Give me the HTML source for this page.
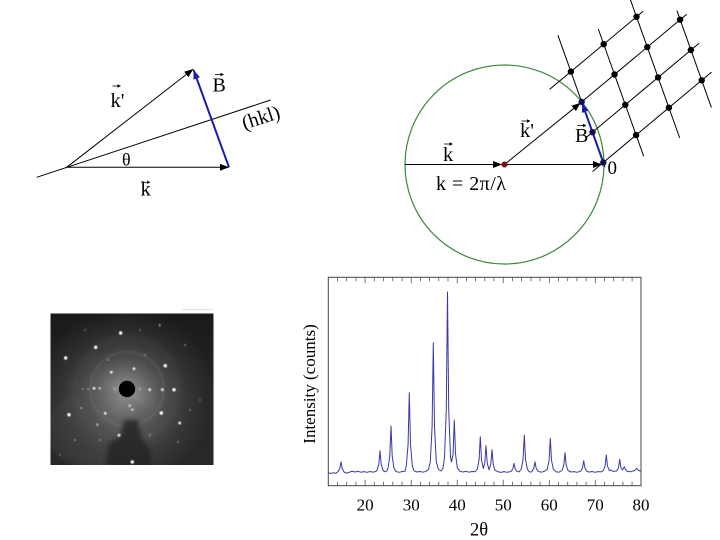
<!DOCTYPE html>
<html><head><meta charset="utf-8"><style>
html,body{margin:0;padding:0;background:#fff;}
svg{display:block;}
text{font-family:"Liberation Serif","DejaVu Serif",serif;fill:#000;}
</style></head><body>
<svg width="720" height="540" viewBox="0 0 720 540" xmlns="http://www.w3.org/2000/svg">
<defs>
<marker id="ab" markerUnits="userSpaceOnUse" markerWidth="10" markerHeight="8" refX="9" refY="3.5" orient="auto"><path d="M0,0 L9,3.5 L0,7 Z" fill="#000"/></marker>
<marker id="au" markerUnits="userSpaceOnUse" markerWidth="10" markerHeight="8" refX="9" refY="3.5" orient="auto"><path d="M0,0 L9,3.5 L0,7 Z" fill="#1c1ca8"/></marker>
<radialGradient id="glow" cx="125" cy="395" r="90" gradientUnits="userSpaceOnUse">
<stop offset="0" stop-color="#b4b4b4"/><stop offset="0.12" stop-color="#9a9a9a"/><stop offset="0.28" stop-color="#747474"/><stop offset="0.45" stop-color="#545454"/><stop offset="0.7" stop-color="#363636"/><stop offset="1" stop-color="#222"/></radialGradient>
<linearGradient id="vg" x1="0" y1="0" x2="0" y2="1"><stop offset="0" stop-color="#000" stop-opacity="0.25"/><stop offset="1" stop-color="#555" stop-opacity="0.12"/></linearGradient>
<filter id="bl1" x="-50%" y="-50%" width="200%" height="200%"><feGaussianBlur stdDeviation="0.6"/></filter>
<filter id="bl3" x="-50%" y="-50%" width="200%" height="200%"><feGaussianBlur stdDeviation="2.5"/></filter>
<clipPath id="imgclip"><rect x="50.5" y="313.5" width="163" height="151.5"/></clipPath>
</defs>

<!-- ===== Top-left diagram ===== -->
<g stroke="#000" stroke-width="1" fill="none">
<line x1="36.7" y1="177.3" x2="270.7" y2="100"/>
<line x1="66.7" y1="167.3" x2="229" y2="167.3" marker-end="url(#ab)"/>
<line x1="66.7" y1="167.3" x2="193.3" y2="69" marker-end="url(#ab)"/>
</g>
<line x1="229" y1="167.3" x2="193.6" y2="70" stroke="#1c1ca8" stroke-width="2" marker-end="url(#au)"/>
<text x="110.5" y="107" font-size="20.5">k'</text>
<path d="M112.5,86 H119" stroke="#000" stroke-width="0.8"/><path d="M121,86 L117.5,84.3 L117.5,87.7 Z"/>
<text x="212.5" y="91.7" font-size="20">B</text>
<path d="M215,74.5 H222" stroke="#000" stroke-width="0.8"/><path d="M224,74.5 L220.5,72.8 L220.5,76.2 Z"/>
<text x="122" y="165.5" font-size="18">θ</text>
<text x="140.5" y="195.7" font-size="20.5">k</text>
<path d="M141.5,182.3 H148.5" stroke="#000" stroke-width="0.8"/><path d="M150.5,182.3 L147,180.6 L147,184 Z"/>
<text x="261" y="124" font-size="20" text-anchor="middle" transform="rotate(-18 261 118)">(hkl)</text>

<!-- ===== Top-right Ewald diagram ===== -->
<circle cx="504.5" cy="164.5" r="99.5" fill="none" stroke="#3c8a3c" stroke-width="1.2"/>
<g stroke="#000" stroke-width="1" fill="none">
<line x1="405" y1="164.5" x2="502" y2="164.5" marker-end="url(#ab)"/>
<line x1="504.5" y1="164.5" x2="602" y2="164.5" marker-end="url(#ab)"/>
<line x1="504.5" y1="164.5" x2="580.7" y2="102.8" marker-end="url(#ab)"/>
<line x1="592.5" y1="171.5" x2="711.5" y2="72.1"/>
<line x1="585.9" y1="137.7" x2="699.1" y2="43.2"/>
<line x1="581.7" y1="101.9" x2="686.7" y2="14.2"/>
<line x1="549.6" y1="89.4" x2="643.1" y2="11.3"/>
<line x1="604.9" y1="167" x2="557.9" y2="35.2"/>
<line x1="643.7" y1="156.3" x2="598.3" y2="29.0"/>
<line x1="679.7" y1="138" x2="630" y2="-1.4"/>
<line x1="711.4" y1="107.6" x2="676.9" y2="10.6"/>
</g>
<line x1="603.3" y1="162.5" x2="582.2" y2="103.3" stroke="#1c1ca8" stroke-width="2" marker-end="url(#au)"/>
<g fill="#000">
<circle cx="603.3" cy="162.5" r="3.2" fill="#101050"/><circle cx="636.1" cy="135.1" r="3.2"/><circle cx="668.9" cy="107.7" r="3.2"/><circle cx="701.7" cy="80.3" r="3.2"/>
<circle cx="592.5" cy="132.2" r="3.2" fill="#101050"/><circle cx="625.3" cy="104.8" r="3.2"/><circle cx="658.1" cy="77.4" r="3.2"/><circle cx="690.9" cy="50" r="3.2"/>
<circle cx="581.7" cy="101.9" r="3.2" fill="#101050"/><circle cx="614.5" cy="74.5" r="3.2"/><circle cx="647.3" cy="47.1" r="3.2"/><circle cx="680.1" cy="19.7" r="3.2"/>
<circle cx="570.9" cy="71.6" r="3.2"/><circle cx="603.7" cy="44.2" r="3.2"/><circle cx="636.5" cy="16.8" r="3.2"/>
</g>
<circle cx="504.5" cy="164.5" r="3" fill="#7a1414"/>
<text x="443" y="161" font-size="20.5">k</text>
<path d="M444,144 H451" stroke="#000" stroke-width="0.8"/><path d="M453,144 L449.5,142.3 L449.5,145.7 Z"/>
<text x="520" y="137" font-size="20.5">k'</text>
<path d="M521.5,121 H528.5" stroke="#000" stroke-width="0.8"/><path d="M530.5,121 L527,119.3 L527,122.7 Z"/>
<text x="575" y="142" font-size="20">B</text>
<path d="M577.5,125.5 H584.5" stroke="#000" stroke-width="0.8"/><path d="M586.5,125.5 L583,123.8 L583,127.2 Z"/>
<text x="607.5" y="174" font-size="19">0</text>
<text x="436" y="190" font-size="20" textLength="70" lengthAdjust="spacing">k = 2π/λ</text>

<!-- ===== Diffraction image ===== -->
<line x1="182" y1="309.5" x2="213.5" y2="309.5" stroke="#e2e2e2" stroke-width="1"/>
<g clip-path="url(#imgclip)">
<rect x="50.5" y="313.5" width="163" height="151.5" fill="#1e1e1e"/>
<rect x="50.5" y="313.5" width="163" height="151.5" fill="url(#glow)"/>
<ellipse cx="100" cy="430" rx="55" ry="40" fill="#555" opacity="0.25" filter="url(#bl3)"/>
<rect x="50.5" y="313.5" width="163" height="151.5" fill="url(#vg)"/>
<circle cx="127" cy="389" r="37" fill="none" stroke="#808080" stroke-width="2.5" opacity="0.2" filter="url(#bl1)"/>
<circle cx="127" cy="389" r="52" fill="none" stroke="#606060" stroke-width="3" opacity="0.2" filter="url(#bl3)"/>
<path d="M124,420 L138,420 L141,437 L149,447 L151,468 L106,468 L108,444 L121,436 Z" fill="#222" opacity="0.8" filter="url(#bl3)"/>
<circle cx="127" cy="389" r="8.2" fill="#000"/>
<g fill="#fff" filter="url(#bl1)">
<circle cx="120.7" cy="333" r="1.7"/><circle cx="95.7" cy="347.3" r="1.7"/><circle cx="65.7" cy="358" r="1.7"/>
<circle cx="165.3" cy="365.7" r="1.7"/><circle cx="111.3" cy="372.3" r="1.4" opacity=".85"/><circle cx="134" cy="368.7" r="1.4" opacity=".85"/>
<circle cx="94" cy="388.3" r="1.4" opacity=".85"/><circle cx="99.7" cy="388.3" r="1.2" opacity=".75"/>
<circle cx="149.7" cy="389.7" r="1.4" opacity=".85"/><circle cx="162.3" cy="389.7" r="1.4" opacity=".85"/><circle cx="174" cy="389.7" r="1.7"/>
<circle cx="129.7" cy="405.7" r="1.2" opacity=".75"/><circle cx="132.3" cy="409.7" r="1.2" opacity=".75"/>
<circle cx="105.3" cy="413.3" r="1.4" opacity=".85"/><circle cx="161.3" cy="413" r="1.7"/><circle cx="69" cy="414.7" r="1.7"/>
<circle cx="179.7" cy="423" r="1.5" opacity=".85"/><circle cx="97.3" cy="424.7" r="1.2" opacity=".65"/>
<circle cx="119" cy="435.3" r="1.5" opacity=".85"/><circle cx="132.3" cy="462" r="1.7"/>
<circle cx="159.7" cy="325.3" r="1.2" opacity=".5"/>
<circle cx="83" cy="389" r="1" opacity=".4"/><circle cx="88" cy="389" r="1" opacity=".4"/><circle cx="81.3" cy="408" r="1" opacity=".5"/>
<circle cx="108" cy="360" r="1" opacity=".4"/><circle cx="145" cy="355" r="1" opacity=".4"/><circle cx="185" cy="345" r="1" opacity=".4"/>
<circle cx="190" cy="410" r="1" opacity=".4"/><circle cx="75" cy="440" r="1" opacity=".4"/><circle cx="60" cy="455" r="1" opacity=".3"/>
<circle cx="200" cy="400" r="1" opacity=".3"/><circle cx="140" cy="330" r="1" opacity=".3"/><circle cx="85" cy="330" r="1" opacity=".3"/>
<circle cx="178" cy="442" r="1" opacity=".4"/><circle cx="150" cy="435" r="1" opacity=".4"/><circle cx="100" cy="440" r="1" opacity=".4"/>
<circle cx="140" cy="389" r="1" opacity=".5"/><circle cx="115" cy="389" r="1" opacity=".5"/>
</g>
</g>

<!-- ===== XRD plot ===== -->
<rect x="328.3" y="277.3" width="312.7" height="208.4" fill="none" stroke="#444" stroke-width="1"/>
<g stroke="#555" stroke-width="0.8">
<path d="M337.5,485.7v-4 M346.7,485.7v-4 M355.9,485.7v-4 M365.1,485.7v-6 M374.3,485.7v-4 M383.5,485.7v-4 M392.8,485.7v-4 M402,485.7v-4 M411.2,485.7v-6 M420.4,485.7v-4 M429.6,485.7v-4 M438.8,485.7v-4 M448,485.7v-4 M457.2,485.7v-6 M466.4,485.7v-4 M475.6,485.7v-4 M484.8,485.7v-4 M494,485.7v-4 M503.2,485.7v-6 M512.4,485.7v-4 M521.6,485.7v-4 M530.9,485.7v-4 M540.1,485.7v-4 M549.3,485.7v-6 M558.5,485.7v-4 M567.7,485.7v-4 M576.9,485.7v-4 M586.1,485.7v-4 M595.3,485.7v-6 M604.5,485.7v-4 M613.7,485.7v-4 M622.9,485.7v-4 M632.1,485.7v-4"/>
<path d="M337.5,277.3v4 M346.7,277.3v4 M355.9,277.3v4 M365.1,277.3v6 M374.3,277.3v4 M383.5,277.3v4 M392.8,277.3v4 M402,277.3v4 M411.2,277.3v6 M420.4,277.3v4 M429.6,277.3v4 M438.8,277.3v4 M448,277.3v4 M457.2,277.3v6 M466.4,277.3v4 M475.6,277.3v4 M484.8,277.3v4 M494,277.3v4 M503.2,277.3v6 M512.4,277.3v4 M521.6,277.3v4 M530.9,277.3v4 M540.1,277.3v4 M549.3,277.3v6 M558.5,277.3v4 M567.7,277.3v4 M576.9,277.3v4 M586.1,277.3v4 M595.3,277.3v6 M604.5,277.3v4 M613.7,277.3v4 M622.9,277.3v4 M632.1,277.3v4"/>
</g>
<path fill="none" stroke="#3838aa" stroke-width="1" stroke-linejoin="round" d="M328.5,473 L331,473.4 L334,472.8 L336,473.3 L338,471.6 L339.8,468.7 L341,461.7 L342.2,468.7 L344,471.8 L346,473.2 L349,472.4 L352,471.2 L355,472 L358,471.4 L361,472.2 L364,471.6 L367,472.3 L370,471.5 L373,472.2 L376,471.4 L377,470.3 L378.8,464.5 L380,450.7 L381.2,464.5 L383,470.3 L385,471.8 L387,470.8 L388,468.3 L389.8,455.9 L391,426 L392.2,455.9 L394,468.3 L396,471.5 L399,472.3 L402,471.6 L405,471.2 L406.3,465.7 L408.1,444.2 L409.3,392.7 L410.5,444.2 L412.3,465.7 L414,470.8 L417,472 L420,471.5 L423,472.2 L426,471.3 L428.5,469.5 L430.3,461.7 L432.1,426.7 L433.3,342.7 L434.5,426.7 L436.3,461.7 L438.5,469.5 L441,471 L443,468.5 L444.5,457.6 L446.3,409 L447.5,292 L448.7,409 L450.5,457 L451.5,462 L453.1,453.8 L454.3,420 L455.5,453.8 L457.3,467.8 L460,471.3 L463,472 L466,471.4 L469,472.2 L472,471.5 L475,471.8 L477.3,469.2 L479.1,459.6 L480.3,436.7 L481.5,459.6 L483.3,468.5 L484.8,462.8 L486,445.7 L487.2,462.8 L489,469.9 L490.8,464.2 L492,449.7 L493.2,464.2 L495,470.2 L498,471.8 L501,472.4 L504,471.6 L507,472.3 L510,471.7 L511,471.3 L512.8,469 L514,463.3 L515.2,469 L517,471.3 L519,471.9 L521.3,469 L523.1,459 L524.3,435 L525.5,459 L527.3,469 L529,471.6 L531,472.1 L532,471.2 L533.8,468.4 L535,461.7 L536.2,468.4 L538,471.2 L541,472.2 L544,471.5 L547.3,469.3 L549.1,460.2 L550.3,438.3 L551.5,460.2 L553.3,469.3 L556,471.7 L559,472.2 L562,470.5 L563.8,465.2 L565,452.7 L566.2,465.2 L568,470.5 L571,472 L574,471.6 L577,472.3 L580.7,471.1 L582.5,468 L583.7,460.7 L584.9,468 L586.7,471.1 L589,472.1 L592,471.5 L595,472.3 L598,471.6 L601,471.9 L603.3,470.6 L605.1,466 L606.3,455 L607.5,466 L609.3,470.6 L611,470 L613,471.4 L616.7,471 L618.5,467.6 L619.7,459.3 L620.9,467.6 L622.5,470 L623.3,468.5 L624.3,466.7 L625.5,469.5 L627.3,471.2 L630,471.8 L632,471.3 L634.7,470.5 L636.7,468.3 L638.7,470.5 L641,471.3"/>
<g font-size="17" text-anchor="middle">
<text x="365.1" y="510.5">20</text><text x="411.2" y="510.5">30</text><text x="457.2" y="510.5">40</text><text x="503.2" y="510.5">50</text><text x="549.3" y="510.5">60</text><text x="595.3" y="510.5">70</text><text x="641" y="510.5">80</text>
</g>
<text x="479" y="535.5" font-size="18.5" text-anchor="middle">2θ</text>
<text x="0" y="0" font-size="17" text-anchor="middle" transform="translate(315 384) rotate(-90)">Intensity (counts)</text>
</svg>
</body></html>
